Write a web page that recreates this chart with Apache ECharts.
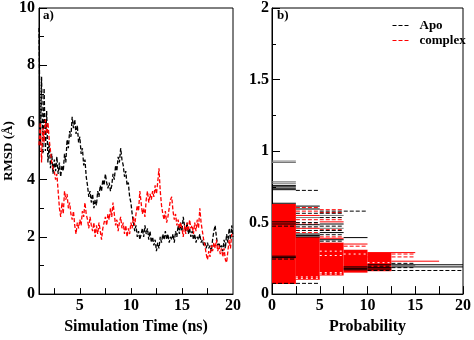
<!DOCTYPE html>
<html><head><meta charset="utf-8">
<script src="https://cdn.jsdelivr.net/npm/echarts@6/dist/echarts.min.js"></script>
<style>html,body{margin:0;padding:0;background:#fff}#c{width:474px;height:340px}</style>
</head><body><div id="c"></div>
<script>
// ---- Panel a) RMSD time series (sampled every 0.125 ns from 1 ns) ----
const timeStart = 1, timeStep = 0.125;
const apoRmsd = [
 9.3,5.2,7.6,4.9,7.2,5.0,6.4,4.6,
 5.3,4.4,4.9,4.2,4.7,4.3,4.8,4.2,
 4.6,4.1,4.5,4.3,4.9,4.6,5.4,5.1,
 5.7,5.5,6.2,5.8,6.1,5.6,5.9,5.3,
 5.5,4.9,5.1,4.5,4.7,4.1,3.8,3.4,
 3.6,3.2,3.5,3.0,3.3,3.1,3.6,3.4,
 3.8,3.6,4.0,3.8,4.2,3.9,3.7,3.9,
 3.6,3.8,4.2,4.0,4.5,4.3,4.8,4.6,
 5.1,4.7,4.5,4.1,4.3,3.8,3.9,3.4,
 3.2,2.8,2.5,2.2,2.4,2.0,2.2,1.9,
 2.1,2.3,2.0,2.4,2.1,2.3,1.9,2.2,
 1.8,2.0,1.7,1.9,1.5,1.8,1.6,2.0,
 1.8,2.1,1.9,2.2,1.9,2.1,1.8,2.0,
 1.9,2.1,1.8,2.2,2.0,2.4,2.1,2.5,
 2.2,2.7,2.4,2.2,2.5,2.1,2.3,2.0,
 2.2,1.9,2.1,1.8,2.0,1.9,2.1,1.8,
 1.9,1.7,1.8,1.6,1.8,1.6,1.7,1.5,
 1.9,2.2,2.4,2.0,1.7,1.8,1.6,1.7,
 1.5,1.9,1.6,2.1,1.8,2.3,1.9,2.4,
 2.0
];
const complexRmsd = [
 5.2,6.0,4.6,5.8,5.3,6.1,5.6,6.0,
 5.4,5.0,4.6,4.4,4.3,4.0,4.2,3.6,
 3.0,2.7,3.2,2.8,3.6,3.3,3.5,3.0,
 3.2,2.8,2.6,2.9,2.4,2.1,2.5,2.3,
 2.6,2.4,2.9,2.7,3.2,2.8,2.6,2.3,
 2.7,2.4,2.2,2.5,2.0,2.4,2.1,2.5,
 2.2,1.9,2.3,2.5,2.7,2.4,2.8,2.6,
 3.0,2.7,3.2,2.8,2.4,2.6,2.2,2.5,
 2.7,2.3,2.5,2.1,2.4,2.0,2.3,2.1,
 2.5,2.3,2.7,2.4,2.8,3.1,2.9,3.6,
 3.2,2.8,3.0,2.7,3.3,3.6,3.2,3.5,
 3.3,3.6,3.4,3.8,3.5,3.9,4.4,3.6,
 3.1,2.8,2.6,2.9,2.5,2.7,3.0,3.3,
 3.4,2.9,2.6,2.8,2.4,2.6,2.3,2.5,
 2.3,2.0,2.4,2.1,2.5,2.2,2.6,2.3,
 2.4,2.1,2.5,2.2,2.6,2.3,3.0,2.5,
 2.2,1.9,1.7,1.4,1.2,1.5,1.3,1.7,
 1.5,1.8,1.6,1.9,1.5,1.7,1.4,1.6,
 1.3,1.6,1.2,1.1,1.5,1.9,1.6,2.1,
 2.0
];
const timeLabels = [5, 10, 15, 20];
const timeTicks = [2.5, 5, 7.5, 10, 12.5, 15, 17.5];

// ---- Panel b) probability histogram: [probStart, probEnd, rmsdLow, rmsdHigh] ----
const complexBins = [
 [0, 2.5, 0.07, 0.63],
 [2.5, 5, 0.10, 0.40],
 [5, 7.5, 0.13, 0.36],
 [7.5, 10, 0.15, 0.31],
 [10, 12.5, 0.16, 0.29]
];
// segments: [probStart, probEnd, rmsd, style]  style: 0 black, 1 black dashed, 2 gray, 3 red dashed, 4 red, 5 white dashed
const apoBackLines = [
 [0,2.5,0.93,2],[0,2.5,0.92,2],
 [0,2.5,0.785,2],[0,2.5,0.775,2],
 [0,2.5,0.76,0],[0,2.5,0.75,0],[0,2.5,0.74,0],[0,2.5,0.73,0],
 [2.5,5,0.725,1],
 [5,10,0.58,1],
 [12.5,20,0.205,0],[12.5,20,0.19,0],[12.5,20,0.165,1]
];
const complexLines = [
 [2.5,5,0.605,3],[2.5,5,0.58,3],[2.5,5,0.55,4],[2.5,5,0.52,3],[2.5,5,0.49,3],[2.5,5,0.46,4],[2.5,5,0.43,3],
 [5,7.5,0.59,3],[5,7.5,0.57,3],[5,7.5,0.52,3],[5,7.5,0.505,4],[5,7.5,0.45,3],[5,7.5,0.40,3],[5,7.5,0.39,4],
 [7.5,10,0.35,4],[7.5,10,0.335,3],
 [10,15,0.29,4],[10,15,0.28,3],[10,15,0.26,3],[12.5,17.5,0.23,4],
 [2.5,5,0.12,5],[2.5,5,0.11,5],[5,7.5,0.15,5],[5,7.5,0.14,5],[5,7.5,0.30,5],[5,7.5,0.27,5],[7.5,10,0.28,5],[10,12.5,0.22,5]
];
const apoFrontLines = [
 [0,2.5,0.635,0],[0,2.5,0.505,0],[0,2.5,0.49,0],[0,2.5,0.475,1],[0,2.5,0.265,0],[0,2.5,0.255,0],[0,2.5,0.245,1],
 [2.5,5,0.615,0],[2.5,5,0.595,0],[2.5,5,0.565,1],[2.5,5,0.535,2],[2.5,5,0.50,1],[2.5,5,0.485,0],[2.5,5,0.47,1],[2.5,5,0.445,1],[2.5,5,0.42,0],[2.5,5,0.41,0],[2.5,5,0.40,0],
 [5,7.5,0.565,1],[5,7.5,0.55,2],[5,7.5,0.535,1],[5,7.5,0.49,0],[5,7.5,0.475,1],[5,7.5,0.46,2],[5,7.5,0.445,1],[5,7.5,0.43,0],[5,7.5,0.415,1],[5,7.5,0.38,0],[5,7.5,0.37,1],
 [7.5,10,0.395,0],
 [7.5,10,0.19,0],[7.5,10,0.18,0],[7.5,10,0.17,0],
 [10,12.5,0.205,0],[10,12.5,0.195,1],[10,12.5,0.185,0],[10,12.5,0.175,0],[10,12.5,0.165,1],
 [12.5,15,0.215,1],[12.5,15,0.20,2],[12.5,15,0.185,1],
 [0,5,0.075,1]
];

const FONT = 'Liberation Serif';
const styleMap = {
 0: {stroke:'#000', lineDash:null},
 1: {stroke:'#000', lineDash:[4,2]},
 2: {stroke:'#777', lineDash:null},
 3: {stroke:'#ff0000', lineDash:[4,2]},
 4: {stroke:'#ff0000', lineDash:null},
 5: {stroke:'#ffffff', lineDash:[2,3]}
};
function renderSeg(params, api) {
  const p0 = api.coord([api.value(0), api.value(2)]);
  const p1 = api.coord([api.value(1), api.value(2)]);
  const s = styleMap[api.value(3)];
  return {type:'line', shape:{x1:p0[0], y1:p0[1], x2:p1[0], y2:p1[1]},
    style:{stroke:s.stroke, lineWidth:1, lineDash:s.lineDash}};
}
function renderBin(params, api) {
  const a = api.coord([api.value(0), api.value(3)]);
  const b = api.coord([api.value(1), api.value(2)]);
  return {type:'rect', shape:{x:a[0], y:a[1], width:b[0]-a[0], height:b[1]-a[1]},
    style:{fill:'#ff0000'}};
}
const toPairs = arr => arr.map((v,i) => [timeStart + i*timeStep, v]);

const labelStyle = {color:'#000', fontFamily:FONT, fontWeight:'bold', fontSize:16};
const nameStyle = {color:'#000', fontFamily:FONT, fontWeight:'bold', fontSize:16};

const chart = echarts.init(document.getElementById('c'), null, {renderer:'canvas'});
chart.setOption({
  animation:false,
  backgroundColor:'#fff',
  grid:[
    {left:39, top:7, width:194, height:299, show:true, borderColor:'#000', borderWidth:1, containLabel:false},
    {left:272, top:7, width:195, height:299, show:true, borderColor:'#000', borderWidth:1, containLabel:false}
  ],
  xAxis:[
    {gridIndex:0, type:'value', min:1, max:20,
     name:'Simulation Time (ns)', nameLocation:'middle', nameGap:17, nameTextStyle:nameStyle,
     axisLine:{lineStyle:{color:'#000'}},
     axisTick:{inside:true, length:6, customValues:timeTicks, lineStyle:{color:'#000'}},
     axisLabel:Object.assign({margin:4, customValues:timeLabels}, labelStyle),
     splitLine:{show:false}},
    {gridIndex:1, type:'value', min:0, max:20, interval:5,
     name:'Probability', nameLocation:'middle', nameGap:17, nameTextStyle:nameStyle,
     axisLine:{lineStyle:{color:'#000'}},
     axisTick:{inside:true, length:8, lineStyle:{color:'#000'}},
     minorTick:{show:true, splitNumber:2, length:8, lineStyle:{color:'#000'}},
     axisLabel:Object.assign({margin:4}, labelStyle),
     splitLine:{show:false}}
  ],
  yAxis:[
    {gridIndex:0, type:'value', min:0, max:10, interval:2,
     name:'RMSD (Å)', nameLocation:'middle', nameGap:22, nameRotate:90,
     nameTextStyle:{color:'#000', fontFamily:FONT, fontWeight:'bold', fontSize:13},
     axisLine:{lineStyle:{color:'#000'}},
     axisTick:{inside:true, length:8, lineStyle:{color:'#000'}},
     minorTick:{show:true, splitNumber:2, length:5, lineStyle:{color:'#000'}},
     axisLabel:Object.assign({margin:4}, labelStyle),
     splitLine:{show:false}},
    {gridIndex:1, type:'value', min:0, max:2, interval:0.5,
     axisLine:{lineStyle:{color:'#000'}},
     axisTick:{inside:true, length:8, lineStyle:{color:'#000'}},
     minorTick:{show:true, splitNumber:2, length:4, lineStyle:{color:'#000'}},
     axisLabel:Object.assign({margin:3}, labelStyle),
     splitLine:{show:false}}
  ],
  legend:{
    data:['Apo','complex'], orient:'vertical', left:387, top:14,
    itemWidth:18, itemHeight:12, itemGap:2,
    itemStyle:{opacity:0},
    lineStyle:{width:1},
    textStyle:{color:'#000', fontFamily:FONT, fontWeight:'bold', fontSize:13, padding:[0,0,0,4]}
  },
  graphic:[
    {type:'text', left:43, top:9, style:{text:'a)', fill:'#000', font:'bold 13px "Liberation Serif"'}},
    {type:'text', left:277, top:9, style:{text:'b)', fill:'#000', font:'bold 13px "Liberation Serif"'}}
  ],
  series:[
    {name:'Apo', type:'line', xAxisIndex:0, yAxisIndex:0, data:toPairs(apoRmsd),
     symbol:'none', showSymbol:false, color:'#000',
     lineStyle:{color:'#000', width:1.3, type:[4,2]}, itemStyle:{color:'#000'}},
    {name:'complex', type:'line', xAxisIndex:0, yAxisIndex:0, data:toPairs(complexRmsd),
     symbol:'none', showSymbol:false, color:'#ff0000',
     lineStyle:{color:'#ff0000', width:1.3, type:[4,2]}, itemStyle:{color:'#ff0000'}},
    {type:'custom', xAxisIndex:1, yAxisIndex:1, renderItem:renderSeg, data:apoBackLines, clip:true, silent:true},
    {type:'custom', xAxisIndex:1, yAxisIndex:1, renderItem:renderBin, data:complexBins, clip:true, silent:true},
    {type:'custom', xAxisIndex:1, yAxisIndex:1, renderItem:renderSeg, data:complexLines, clip:true, silent:true},
    {type:'custom', xAxisIndex:1, yAxisIndex:1, renderItem:renderSeg, data:apoFrontLines, clip:true, silent:true}
  ]
});
</script></body></html>
